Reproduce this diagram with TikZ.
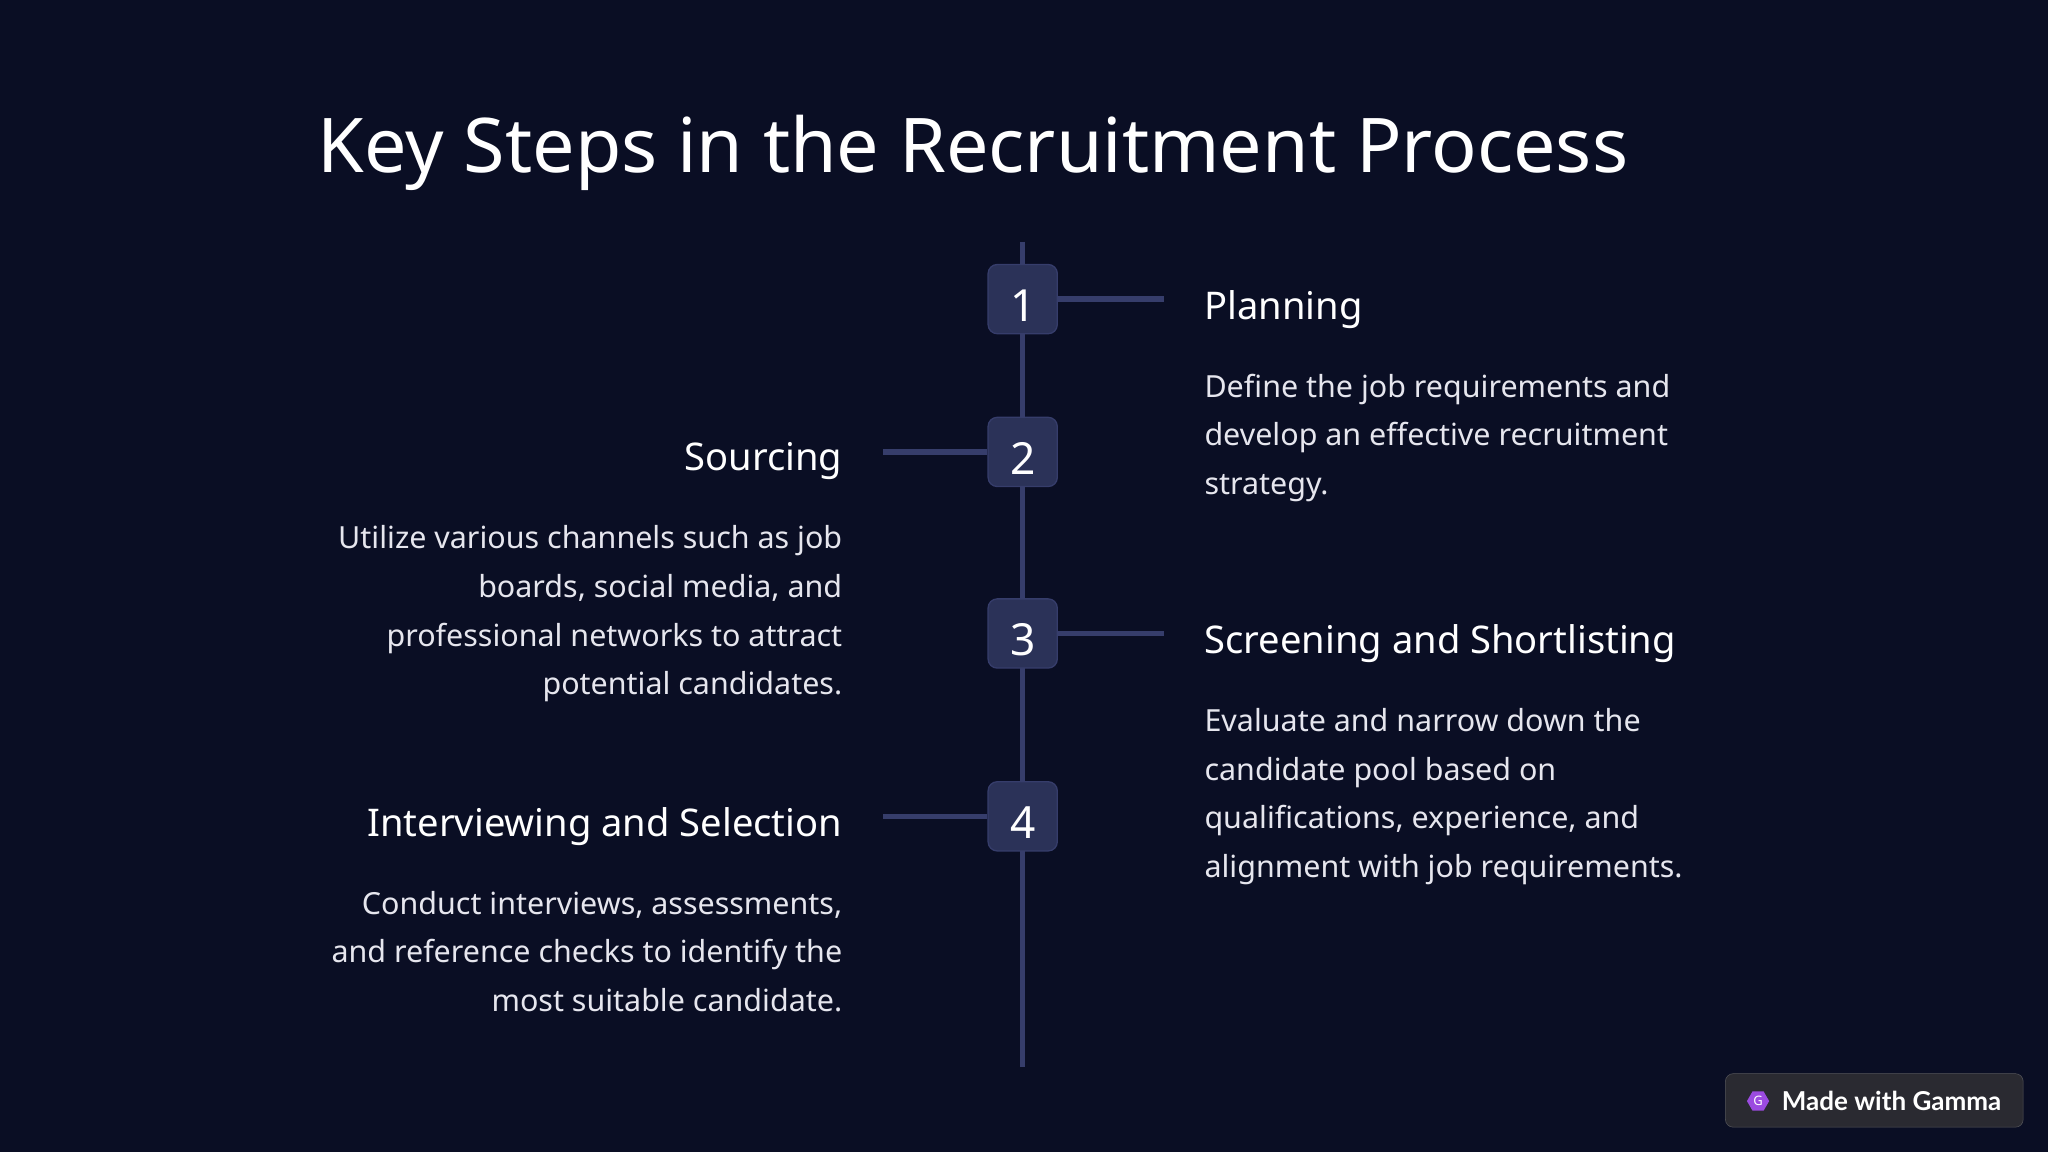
\documentclass[tikz,border=0pt]{standalone}
\usepackage{fontspec}
\usetikzlibrary{shapes.geometric}
\setmainfont{Noto Sans}
\newfontfamily\gammafont{Lato}
\definecolor{bgc}{HTML}{0A0E24}
\definecolor{badge}{HTML}{2B3258}
\definecolor{linec}{HTML}{363D6B}
\definecolor{txt}{HTML}{E6E6EE}
\definecolor{gbox}{HTML}{2A2A31}
\definecolor{gpurple}{HTML}{9B4BE0}
\tikzset{
  numbox/.style={draw=linec, line width=1pt, fill=badge, rounded corners=7bp, minimum width=53bp, minimum height=53bp, inner sep=0},
  numtxt/.style={text=white, inner sep=0, font=\fontsize{34}{34}\selectfont, yshift=-5bp},
  conn/.style={draw=linec, line width=4bp},
  head/.style={text=white, inner sep=0, font=\fontsize{29.3}{36}\selectfont},
  bodyl/.style={text=txt, inner sep=0, font=\fontsize{23.4}{37.5}\selectfont, align=left},
  bodyr/.style={text=txt, inner sep=0, font=\fontsize{23.4}{37.5}\selectfont, align=right},
}
\begin{document}
\begin{tikzpicture}[x=1bp,y=-1bp]
\fill[bgc] (0,0) rectangle (1568,882);
\useasboundingbox (0,0) rectangle (1568,882);
\node[text=white, inner sep=0, font=\fontsize{58}{60}\selectfont] (title) at (745,117) {Key Steps in the Recruitment Process};
\coordinate (top) at (783,185);
\coordinate (bot) at (783,817);
\draw[conn] (top) -- (bot);
\node[numbox] (n1) at (783,229) {};
\node[numbox] (n2) at (783,346) {};
\node[numbox] (n3) at (783,485) {};
\node[numbox] (n4) at (783,625) {};
\node[numtxt] at (n1) {1};
\node[numtxt] at (n2) {2};
\node[numtxt] at (n3) {3};
\node[numtxt] at (n4) {4};
\coordinate (c1) at (891,229);
\coordinate (c2) at (676,346);
\coordinate (c3) at (891,485);
\coordinate (c4) at (676,625);
\draw[conn] (n1.east) -- (c1);
\draw[conn] (n2.west) -- (c2);
\draw[conn] (n3.east) -- (c3);
\draw[conn] (n4.west) -- (c4);
\node[head, anchor=west] (h1) at (922,237) {Planning};
\node[head, anchor=east] (h2) at (645,353) {Sourcing};
\node[head, anchor=west] (h3) at (922,493) {Screening and Shortlisting};
\node[head, anchor=east] (h4) at (645,633) {Interviewing and Selection};
\node[bodyl, anchor=north west] (b1) at (922,286) {Define the job requirements and\\develop an effective recruitment\\strategy.};
\node[bodyr, anchor=north east] (b2) at (645,402) {Utilize various channels such as job\\boards, social media, and\\professional networks to attract\\potential candidates.};
\node[bodyl, anchor=north west] (b3) at (922,542) {Evaluate and narrow down the\\candidate pool based on\\qualifications, experience, and\\alignment with job requirements.};
\node[bodyr, anchor=north east] (b4) at (645,682) {Conduct interviews, assessments,\\and reference checks to identify the\\most suitable candidate.};
\node[draw=gbox!80!white, fill=gbox, rounded corners=6bp, minimum width=228bp, minimum height=41bp, inner sep=0] (gb) at (1435,842.5) {};
\node[text=white, inner sep=0, anchor=west, font=\gammafont\bfseries\fontsize{20}{20}\selectfont] (gt) at (1364,843) {Made with Gamma};
\node[regular polygon, regular polygon sides=6, fill=gpurple, minimum size=17bp, inner sep=0] (gi) at (1346,843) {};
\node[text=white, inner sep=0, font=\bfseries\fontsize{10}{10}\selectfont] at (gi) {G};
\end{tikzpicture}
\end{document}
